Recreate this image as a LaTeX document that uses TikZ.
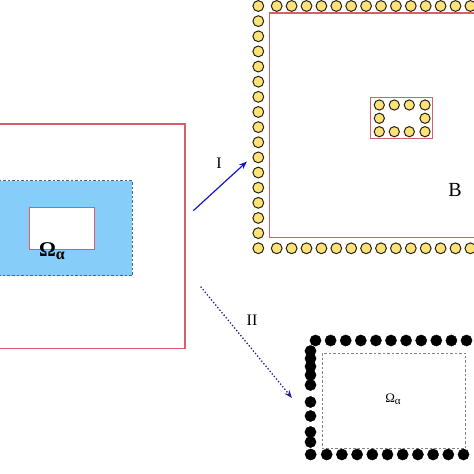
\documentclass[tikz,border=0pt]{standalone}
\usepackage{fontspec}
\setmainfont{Liberation Serif}
\usetikzlibrary{arrows.meta}
\begin{document}
\begin{tikzpicture}[x=1pt,y=-1pt,
  redbox/.style={draw={rgb,255:red,215;green,95;blue,105},line width=1.3pt},
  ydot/.style={draw={rgb,255:red,40;green,35;blue,20},fill={rgb,255:red,253;green,226;blue,120},line width=1pt},
  bdot/.style={fill=black},
  lbl/.style={font=\fontsize{16}{16}\selectfont},
  arrI/.style={draw={rgb,255:red,20;green,20;blue,210},line width=1.2pt,-{Stealth[length=8pt,width=6pt]}},
  arrII/.style={draw={rgb,255:red,30;green,30;blue,140},line width=1.3pt,dotted,-{Stealth[length=8pt,width=6pt]}}]
\useasboundingbox (0,0) rectangle (474,474);
\begin{scope}
\clip (0,0) rectangle (474,474);
% left figure
\draw[redbox,fill=white] (-10,124) rectangle (185,348.3);
\draw[fill={rgb,255:red,135;green,205;blue,250},draw={rgb,255:red,70;green,100;blue,140},dashed,line width=1pt,dash pattern=on 2.5pt off 2pt] (-10,180.7) rectangle (132.3,275.7);
\draw[redbox,fill=white] (29.3,207.7) rectangle (94.7,249.3);
\node[font=\fontsize{21}{21}\selectfont\bfseries,inner sep=0pt] (omL) at (52,251) {Ω\raisebox{-3.5pt}{\fontsize{16}{16}\selectfont α}};
% top right figure
\draw[redbox] (269.3,13) rectangle (490,237.7);
\foreach \k in {0,...,16} \draw[ydot] (258.3,6+\k*15.14) circle (5.4);
\foreach \k in {0,...,14} {\draw[ydot] (276.7+\k*14.9,6) circle (5.4);
  \draw[ydot] (276.7+\k*14.9,248.3) circle (5.4);}
\draw[redbox] (370.7,97.3) rectangle (432.7,138.3);
\foreach \x in {379.3,394.3,409.3,425} {\draw[ydot] (\x,105) circle (5.1);
  \draw[ydot] (\x,131.7) circle (5.1);}
\foreach \x in {379.3,425} \draw[ydot] (\x,118.3) circle (5.1);
\node[font=\fontsize{20}{20}\selectfont] (B) at (455,190) {B};
% bottom right figure
\draw[gray,line width=0.9pt,dash pattern=on 2.5pt off 2pt] (322.3,353.3) rectangle (465.5,448.5);
\foreach \k in {0,...,10} \draw[bdot] (315.5+\k*15.1,340.5) circle (5.6);
\draw[bdot] (310.7,454.5) circle (5.6);
\foreach \k in {0,...,9} \draw[bdot] (326.7+\k*15.2,454.5) circle (5.6);
\foreach \y in {351,358.5,366.5,375,385,402,416,432,442} \draw[bdot] (310.5,\y) circle (5.6);
\node[font=\fontsize{13}{13}\selectfont,inner sep=0pt] (omR) at (393,399) {Ω\raisebox{-2.5pt}{\fontsize{11}{11}\selectfont α}};
\end{scope}
% arrows
\coordinate (a1s) at (193.3,210.7);
\coordinate (a1e) at (247,161.5);
\coordinate (a2s) at (200.7,286.7);
\coordinate (a2e) at (292,398);
\draw[arrI] (a1s) -- (a1e);
\draw[arrII] (a2s) -- (a2e);
\node[lbl] (lI) at (219,163.5) {I};
\node[lbl] (lII) at (252,320.5) {II};
\end{tikzpicture}
\end{document}
